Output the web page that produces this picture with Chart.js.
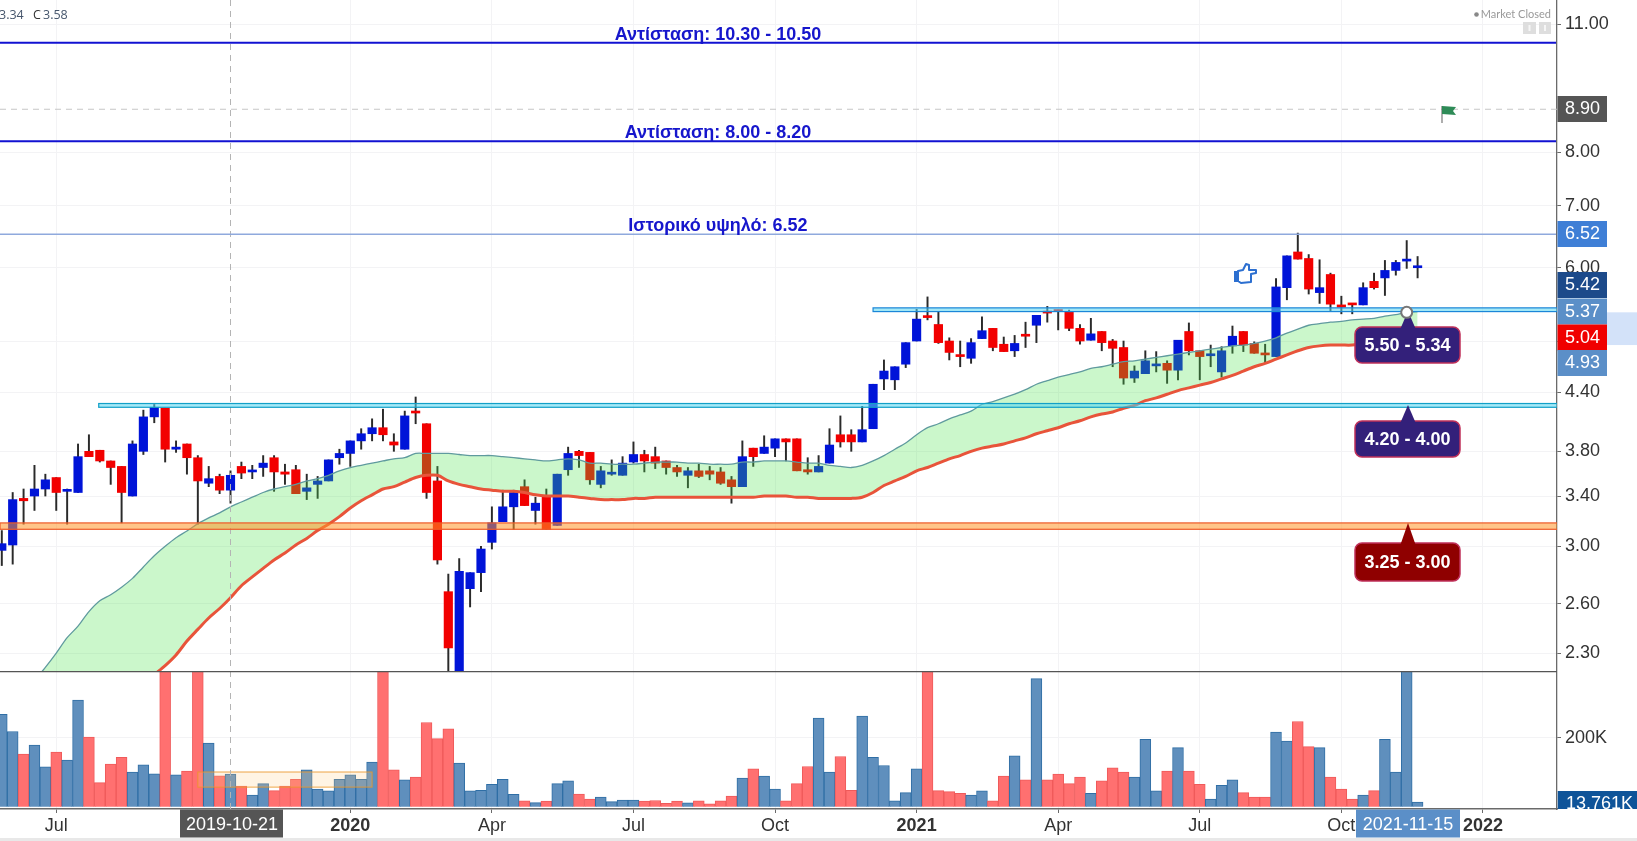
<!DOCTYPE html>
<html><head><meta charset="utf-8">
<style>
html,body{margin:0;padding:0;background:#fff;overflow:hidden}
#wrap{position:relative;width:1637px;height:841px;background:#fff}
canvas{position:absolute;left:0;display:block}
#strip{position:absolute;left:0;top:838px;width:1637px;height:3px;background:#e8e8e8}
</style>
<script src="https://cdn.jsdelivr.net/npm/chart.js@4"></script>
</head><body>
<div id="wrap">
<canvas id="price" width="1637" height="671" style="top:0"></canvas>
<canvas id="vol" width="1637" height="170" style="top:671px"></canvas>
<div id="strip"></div>
</div>
<script>
// Weekly bars, first bar 2019-05-27, last bar 2021-11-22
const opens=[2.97,3.01,3.38,3.40,3.46,3.56,3.44,3.43,3.80,3.81,3.71,3.66,3.40,3.80,4.14,4.23,3.82,3.87,3.74,3.51,3.57,3.45,3.66,3.61,3.65,3.74,3.61,3.63,3.44,3.50,3.53,3.74,3.78,3.90,3.97,4.03,3.89,3.82,4.20,4.07,3.53,2.68,2.10,2.70,2.81,3.03,3.19,3.31,3.48,3.28,3.40,3.16,3.63,3.80,3.79,3.50,3.59,3.58,3.70,3.77,3.75,3.71,3.65,3.58,3.62,3.62,3.61,3.54,3.48,3.83,3.78,3.83,3.92,3.92,3.63,3.61,3.69,3.96,3.96,3.89,4.02,4.55,4.54,4.72,5.00,5.32,5.21,5.00,4.83,4.79,5.03,5.16,4.96,4.88,5.08,5.20,5.37,5.40,5.37,5.16,5.01,5.12,5.00,4.92,4.56,4.61,4.70,4.73,4.65,5.12,4.88,4.82,4.63,4.94,5.12,4.97,4.85,4.81,5.71,6.24,6.14,5.64,5.90,5.47,5.48,5.47,5.80,5.85,5.96,6.10,6.00];
const highs=[3.12,3.43,3.46,3.67,3.59,3.56,3.46,3.87,3.96,3.81,3.71,3.66,3.90,4.21,4.27,4.23,3.90,3.87,3.76,3.66,3.59,3.62,3.70,3.67,3.76,3.76,3.68,3.67,3.59,3.57,3.72,3.82,3.90,4.02,4.12,4.22,3.97,4.20,4.35,4.07,3.66,2.80,2.91,2.81,3.00,3.31,3.45,3.45,3.54,3.39,3.46,3.59,3.84,3.81,3.79,3.66,3.72,3.75,3.89,3.81,3.84,3.71,3.67,3.65,3.68,3.66,3.65,3.57,3.90,3.83,3.95,3.92,3.92,3.92,3.74,3.76,4.02,4.15,4.01,4.25,4.49,4.77,4.69,4.98,5.41,5.58,5.38,5.04,5.00,5.03,5.31,5.16,5.05,5.07,5.24,5.33,5.45,5.40,5.40,5.21,5.29,5.12,5.02,5.00,4.70,4.88,4.87,4.76,5.01,5.23,4.88,4.95,4.93,5.19,5.12,4.99,4.96,5.84,6.18,6.54,6.20,6.12,5.92,5.59,5.49,5.78,5.92,6.11,6.11,6.42,6.17];
const lows=[2.86,2.87,3.17,3.28,3.40,3.28,3.17,3.43,3.75,3.70,3.50,3.18,3.40,3.77,4.08,3.70,3.79,3.59,3.17,3.48,3.42,3.34,3.55,3.55,3.57,3.44,3.50,3.42,3.37,3.38,3.53,3.68,3.66,3.82,3.90,3.90,3.80,3.82,4.07,3.38,2.87,2.10,2.05,2.58,2.68,2.98,3.19,3.13,3.32,3.17,3.13,3.16,3.58,3.65,3.50,3.47,3.58,3.58,3.69,3.61,3.64,3.59,3.57,3.47,3.56,3.54,3.50,3.34,3.48,3.66,3.78,3.75,3.71,3.62,3.59,3.61,3.69,3.84,3.80,3.89,4.02,4.43,4.43,4.68,5.00,5.27,4.97,4.77,4.69,4.73,5.03,4.88,4.87,4.81,4.92,4.98,5.24,5.14,5.13,4.96,5.01,4.88,4.69,4.49,4.51,4.61,4.63,4.50,4.54,4.83,4.54,4.69,4.57,4.85,4.87,4.85,4.73,4.81,5.54,6.13,5.62,5.49,5.39,5.35,5.35,5.47,5.69,5.60,5.89,5.99,5.85];
const closes=[3.02,3.37,3.36,3.46,3.54,3.43,3.45,3.75,3.75,3.71,3.65,3.43,3.87,4.14,4.24,3.82,3.84,3.74,3.53,3.55,3.45,3.58,3.60,3.62,3.69,3.61,3.59,3.42,3.47,3.53,3.72,3.78,3.90,3.97,4.03,3.96,3.86,4.15,4.18,3.43,2.90,2.33,2.82,2.81,2.98,3.18,3.31,3.43,3.32,3.34,3.13,3.59,3.78,3.76,3.54,3.62,3.60,3.69,3.77,3.71,3.69,3.65,3.61,3.62,3.57,3.59,3.51,3.48,3.75,3.75,3.84,3.92,3.89,3.62,3.61,3.66,3.86,3.89,3.89,4.01,4.49,4.64,4.69,4.98,5.28,5.30,4.98,4.86,4.81,4.98,5.13,4.92,4.87,4.97,5.06,5.33,5.36,5.38,5.16,5.00,5.09,4.98,4.91,4.56,4.64,4.76,4.71,4.65,5.01,4.88,4.81,4.83,4.88,5.06,4.95,4.85,4.83,5.72,6.18,6.13,5.69,5.71,5.48,5.44,5.47,5.71,5.71,5.96,6.08,6.11,6.00];
const emaUpper=[1.95,2.02,2.09,2.15,2.22,2.30,2.39,2.46,2.55,2.62,2.66,2.71,2.77,2.85,2.93,3.00,3.065,3.117,3.174,3.22,3.26,3.31,3.35,3.39,3.43,3.46,3.48,3.50,3.53,3.55,3.58,3.62,3.65,3.67,3.69,3.71,3.73,3.74,3.78,3.78,3.78,3.78,3.77,3.76,3.76,3.76,3.75,3.74,3.73,3.72,3.71,3.72,3.73,3.72,3.69,3.69,3.68,3.68,3.68,3.69,3.70,3.70,3.70,3.69,3.69,3.68,3.68,3.68,3.70,3.70,3.71,3.71,3.71,3.70,3.69,3.69,3.67,3.66,3.65,3.67,3.71,3.76,3.82,3.88,3.96,4.03,4.07,4.12,4.16,4.20,4.27,4.30,4.34,4.38,4.43,4.49,4.53,4.57,4.60,4.63,4.67,4.69,4.72,4.75,4.76,4.78,4.80,4.82,4.84,4.86,4.88,4.90,4.92,4.94,4.95,4.97,5.00,5.04,5.10,5.15,5.20,5.22,5.24,5.25,5.27,5.28,5.29,5.32,5.34,5.37,5.38];
const emaLower=[1.52,1.56,1.60,1.64,1.68,1.73,1.78,1.83,1.88,1.93,1.98,2.03,2.08,2.13,2.18,2.23,2.29,2.37,2.44,2.51,2.57,2.64,2.72,2.78,2.84,2.90,2.95,3.01,3.06,3.12,3.17,3.23,3.30,3.36,3.41,3.46,3.48,3.52,3.56,3.58,3.58,3.53,3.50,3.48,3.46,3.45,3.44,3.44,3.43,3.41,3.40,3.40,3.40,3.39,3.38,3.37,3.37,3.37,3.38,3.38,3.39,3.39,3.39,3.39,3.39,3.39,3.39,3.39,3.39,3.39,3.40,3.40,3.40,3.39,3.39,3.38,3.38,3.38,3.38,3.39,3.43,3.49,3.53,3.57,3.62,3.65,3.69,3.73,3.76,3.80,3.83,3.85,3.87,3.90,3.93,3.97,4.00,4.03,4.07,4.10,4.14,4.17,4.19,4.23,4.26,4.31,4.34,4.38,4.42,4.45,4.48,4.51,4.55,4.59,4.64,4.69,4.73,4.78,4.83,4.88,4.92,4.94,4.95,4.95,4.95,4.97,4.98,5.00,5.02,5.04,5.05];
const volumesK=[269,219,153,179,116,159,136,310,203,70,124,144,101,122,96,500,93,104,500,185,90,95,60,34,67,47,60,80,107,51,46,80,93,80,130,500,107,78,86,245,198,227,127,46,48,65,80,36,17,12,16,67,75,37,22,28,15,19,19,16,18,10,16,11,17,8,17,31,83,110,89,51,17,67,117,258,101,146,48,264,144,120,17,41,110,500,47,44,39,34,46,17,89,148,78,373,78,95,67,86,39,75,113,101,86,196,46,104,172,104,65,22,62,78,41,28,28,217,191,248,175,172,86,51,22,34,47,196,101,500,13.76];
const priceTicks=[2.3,2.6,3,3.4,3.8,4.4,5,6,7,8,11];
const volTicksK=[200];
const timeTickBars=[5,32,45,58,71,84,97,110,123,136];
const timeTickLabels=['Jul','2020','Apr','Jul','Oct','2021','Apr','Jul','Oct','2022'];
const lineLevels=[10.5,8.22,6.52];
const lineTexts=['Αντίσταση: 10.30 - 10.50','Αντίσταση: 8.00 - 8.20','Ιστορικό υψηλό: 6.52'];
const zoneTop=[5.43,4.28,3.18];
const zoneBottom=[5.38,4.24,3.13];
const zoneTexts=['5.50 - 5.34','4.20 - 4.00','3.25 - 3.00'];
const priceAxisTexts=['8.90','6.52','5.42','5.37','5.04','4.93'];

const FONT='"Liberation Sans", Arial, sans-serif';
Chart.defaults.font.family=FONT;
const BLUE='#0014d8',RED='#f20000';
const xs=opens.map((_,i)=>i);
const isUp=i=>closes[i]>=opens[i];
const XMIN=-0.165,XMAX=142.8,GRID='#f3f3f5',AXIS='#6a6a6a';
const noPad=s=>{s.paddingTop=0;s.paddingBottom=0;s.paddingLeft=0;s.paddingRight=0;};
const yAfterFit=s=>{s.width=80;noPad(s);};

const xBase=(showLabels)=>({type:'linear',min:XMIN,max:XMAX,offset:false,
  afterBuildTicks:s=>{s.ticks=timeTickBars.map(v=>({value:v}));},
  grid:{color:GRID,offset:false,drawTicks:showLabels,tickLength:4,tickColor:AXIS},
  border:{display:showLabels,color:AXIS,width:1.5},
  afterFit:s=>{s.height=showLabels?32:0;noPad(s);},
  ticks:{display:showLabels,autoSkip:false,maxRotation:0,includeBounds:false,padding:2,color:'#333',
    font:c=>({size:18,family:FONT,weight:(c.tick&&/^\d{4}$/.test(timeTickLabels[timeTickBars.indexOf(c.tick.value)]||''))?'bold':'normal'}),
    callback:v=>timeTickLabels[timeTickBars.indexOf(v)]||''}
});

function roundRect(ctx,x,y,w,h,r){ctx.beginPath();ctx.roundRect(x,y,w,h,r);}

const priceOverlay={id:'priceOverlay',
  afterDatasetsDraw(ch){
    const {ctx,scales:{x,y}}=ch;const R=x.right;
    ctx.save();ctx.beginPath();ctx.rect(0,0,R,ch.chartArea.bottom);ctx.clip();
    // crosshair
    ctx.strokeStyle='#b4b4b4';ctx.lineWidth=1;ctx.setLineDash([6,5]);
    ctx.beginPath();ctx.moveTo(x.getPixelForValue(21),0);ctx.lineTo(x.getPixelForValue(21),ch.chartArea.bottom);ctx.stroke();
    ctx.strokeStyle='#c6c6c6';
    ctx.beginPath();ctx.moveTo(0,y.getPixelForValue(8.9));ctx.lineTo(R,y.getPixelForValue(8.9));ctx.stroke();
    ctx.setLineDash([]);
    // level lines
    lineLevels.forEach((v,k)=>{
      const py=y.getPixelForValue(v);
      ctx.strokeStyle=k<2?'#1212d2':'#8fa9dd';ctx.lineWidth=k<2?2:1.5;
      ctx.beginPath();ctx.moveTo(0,py);ctx.lineTo(R-1,py);ctx.stroke();
    });
    // zones
    const starts=[80,8.9,XMIN];
    const zf=['rgba(90,215,240,.55)','rgba(90,215,240,.55)','rgba(255,150,40,.55)'];
    const zb=['#1b86d8','#12a0c8','#ee5a28'];
    zoneTop.forEach((v,k)=>{
      const t=y.getPixelForValue(v),b=y.getPixelForValue(zoneBottom[k]),l=x.getPixelForValue(starts[k]);
      ctx.fillStyle=zf[k];ctx.fillRect(l,t,R-l,b-t);
      ctx.strokeStyle=zb[k];ctx.lineWidth=1.2;ctx.strokeRect(l,t,R-l+2,b-t);
    });
    // level texts
    ctx.fillStyle='#1616cc';ctx.font='bold 18px '+FONT;ctx.textAlign='center';ctx.textBaseline='alphabetic';
    lineTexts.forEach((t,k)=>{ctx.fillText(t,718,[40,138,231][k]);});
    // hand marker
    ctx.fillStyle='#2c6fd0';ctx.fillRect(1234,271,4,11);
    ctx.fillStyle='#fff';ctx.strokeStyle='#2c6fd0';ctx.lineWidth=2;ctx.lineJoin='round';
    ctx.beginPath();[[1238,271],[1243,270],[1246,264],[1249,265],[1249,270],[1256,270],[1256,273],[1251,274],[1251,282],[1241,283],[1238,281]]
      .forEach((p,i)=>i?ctx.lineTo(p[0],p[1]):ctx.moveTo(p[0],p[1]));ctx.closePath();ctx.fill();ctx.stroke();
    // flag
    ctx.strokeStyle='#777';ctx.lineWidth=1.2;ctx.beginPath();ctx.moveTo(1442,106);ctx.lineTo(1442,123);ctx.stroke();
    ctx.fillStyle='#2e8b57';ctx.beginPath();ctx.moveTo(1442,106);ctx.lineTo(1456,107);ctx.lineTo(1453,111);ctx.lineTo(1456,115);ctx.lineTo(1442,114);ctx.closePath();ctx.fill();
    ctx.restore();
    // callouts
    const tips=[311,405,523],tops=[327,421,543],hs=[36,36,38],fills=['#33207a','#33207a','#8f0000'];
    tips.forEach((tip,k)=>{
      ctx.fillStyle=fills[k];ctx.strokeStyle='#c0305a';ctx.lineWidth=1.5;
      roundRect(ctx,1355,tops[k],105,hs[k],7);ctx.fill();ctx.stroke();
      ctx.fillStyle=fills[k];ctx.beginPath();ctx.moveTo(1408,tip);ctx.lineTo(1400.5,tops[k]+1.5);ctx.lineTo(1415.5,tops[k]+1.5);ctx.closePath();ctx.fill();
      ctx.fillStyle='#fff';ctx.font='bold 18px '+FONT;ctx.textAlign='center';ctx.textBaseline='middle';
      ctx.fillText(zoneTexts[k],1407.5,tops[k]+hs[k]/2+1);
    });
    // last-point marker on the upper band
    ctx.beginPath();ctx.arc(x.getPixelForValue(129),y.getPixelForValue(emaUpper[129]),5.5,0,Math.PI*2);
    ctx.fillStyle='#fff';ctx.fill();ctx.strokeStyle='#777';ctx.lineWidth=2;ctx.stroke();
  },
  afterDraw(ch){
    const {ctx,scales:{y}}=ch;
    // range block
    ctx.fillStyle='#d3e2f9';ctx.fillRect(1607,y.getPixelForValue(5.37),30,y.getPixelForValue(4.95)-y.getPixelForValue(5.37));
    // price labels
    const cols=['#555555','#3f7fd6','#1c4a8a','#5b8fc8','#f00000','#5b8fc8'];
    const cs=[109,234,285,311.5,337.5,363];
    priceAxisTexts.forEach((t,k)=>{
      ctx.fillStyle=cols[k];ctx.fillRect(1557.5,cs[k]-13,49.5,26);
      ctx.fillStyle='#fff';ctx.font='18px '+FONT;ctx.textAlign='left';ctx.textBaseline='middle';
      ctx.fillText(t,1565,cs[k]+0.5);
    });
    // top-left readout
    ctx.font='12.5px "Open Sans"';ctx.textBaseline='middle';ctx.textAlign='left';
    ctx.fillStyle='#46566c';ctx.fillText('3.34',-1,15.5);ctx.fillStyle='#333';ctx.fillText('C',33,15.5);ctx.fillStyle='#46566c';ctx.fillText('3.58',43,15.5);
    // market status
    ctx.fillStyle='#888';ctx.beginPath();ctx.arc(1476.5,14.5,2.3,0,Math.PI*2);ctx.fill();
    ctx.fillStyle='#9a9a9a';ctx.font='11px Lato';ctx.textAlign='right';ctx.fillText('Market Closed',1551,14.5);
    ctx.fillStyle='#dedede';ctx.fillRect(1523,22,13,12);ctx.fillRect(1539,22,12,12);
    ctx.fillStyle='#f6f6f6';ctx.fillRect(1528.5,25,2,6);ctx.fillRect(1544,25,2,6);
  }
};

const volOverlay={id:'volOverlay',
  afterDatasetsDraw(ch){
    const {ctx,scales:{x,y}}=ch;
    ctx.save();
    const l=x.getPixelForValue(18),r=x.getPixelForValue(34),t=y.getPixelForValue(101),b=y.getPixelForValue(57);
    ctx.fillStyle='rgba(255,205,130,.22)';ctx.fillRect(l,t,r-l,b-t);
    ctx.strokeStyle='rgba(235,150,40,.85)';ctx.lineWidth=1;ctx.strokeRect(l,t,r-l,b-t);
    ctx.strokeStyle='#b4b4b4';ctx.setLineDash([6,5]);
    ctx.beginPath();ctx.moveTo(x.getPixelForValue(21),0);ctx.lineTo(x.getPixelForValue(21),138);ctx.stroke();
    ctx.restore();
  },
  afterDraw(ch){
    const {ctx,scales:{x}}=ch;
    ctx.strokeStyle='#555';ctx.lineWidth=1.5;ctx.beginPath();ctx.moveTo(0,0.5);ctx.lineTo(x.right,0.5);ctx.stroke();
    // date labels
    const boxes=[[180,103,'#555555','2019-10-21',232],[1356,104,'#5b8fc8','2021-11-15',1408]];
    boxes.forEach(b=>{
      ctx.fillStyle=b[2];ctx.fillRect(b[0],138.5,b[1],28);
      ctx.fillStyle='#fff';ctx.font='18px '+FONT;ctx.textAlign='center';ctx.textBaseline='middle';
      ctx.fillText(b[3],b[4],154);
    });
    // last volume label, clipped by the pane
    ctx.save();ctx.beginPath();ctx.rect(1557.5,120,80,18);ctx.clip();
    ctx.fillStyle='#0f5499';ctx.fillRect(1557.5,120,80,18);
    ctx.fillStyle='#fff';ctx.font='18px '+FONT;ctx.textAlign='left';ctx.textBaseline='middle';
    ctx.fillText('13.761K',1566,133);ctx.restore();
  }
};

new Chart(document.getElementById('price'),{
  type:'bar',
  data:{datasets:[
    {type:'bar',order:5,grouped:false,barThickness:1.3,backgroundColor:'#2a2a2a',
     data:xs.map(i=>({x:i,y:[lows[i],highs[i]]}))},
    {type:'bar',order:4,grouped:false,barThickness:8.5,minBarLength:2,
     backgroundColor:xs.map(i=>isUp(i)?BLUE:RED),
     data:xs.map(i=>({x:i,y:[opens[i],closes[i]]}))},
    {type:'line',order:2,data:xs.map(i=>({x:i,y:emaUpper[i]})),borderColor:'#5f9a9e',borderWidth:1.3,pointRadius:0,tension:.3,
     fill:{target:'+1',above:'rgba(77,227,77,.29)',below:'rgba(77,227,77,.29)'}},
    {type:'line',order:1,data:xs.map(i=>({x:i,y:emaLower[i]})),borderColor:'#e8543a',borderWidth:3,pointRadius:0,tension:.3,fill:false}
  ]},
  options:{responsive:false,animation:false,events:[],layout:{padding:0},
    plugins:{legend:{display:false},tooltip:{enabled:false}},
    scales:{
      x:xBase(false),
      y:{type:'logarithmic',position:'right',min:2.2,max:11.68,afterFit:yAfterFit,
        afterBuildTicks:s=>{s.ticks=priceTicks.map(v=>({value:v}));},
        grid:{color:GRID,tickLength:4,tickColor:AXIS},border:{color:AXIS,width:1.3},
        ticks:{autoSkip:false,padding:4,color:'#333',font:{size:18},callback:v=>Number(v).toFixed(2)}}
    }},
  plugins:[priceOverlay]
});

new Chart(document.getElementById('vol'),{
  type:'bar',
  data:{datasets:[
    {grouped:false,barPercentage:1,categoryPercentage:1,borderWidth:1,
     backgroundColor:xs.map(i=>isUp(i)?'#5f8fbd':'#ff7070'),
     borderColor:xs.map(i=>isUp(i)?'#2f6ea5':'#ef5a5a'),
     data:xs.map(i=>({x:i,y:volumesK[i]}))}
  ]},
  options:{responsive:false,animation:false,events:[],layout:{padding:0},
    plugins:{legend:{display:false},tooltip:{enabled:false}},
    scales:{
      x:xBase(true),
      y:{type:'linear',position:'right',min:-6.7,max:395,afterFit:yAfterFit,beginAtZero:false,
        afterBuildTicks:s=>{s.ticks=volTicksK.map(v=>({value:v}));},
        grid:{color:GRID,tickLength:4,tickColor:AXIS},border:{color:AXIS,width:1.3},
        ticks:{autoSkip:false,padding:4,color:'#333',font:{size:18},callback:v=>v+'K'}}
    }},
  plugins:[volOverlay]
});
</script>
</body></html>
